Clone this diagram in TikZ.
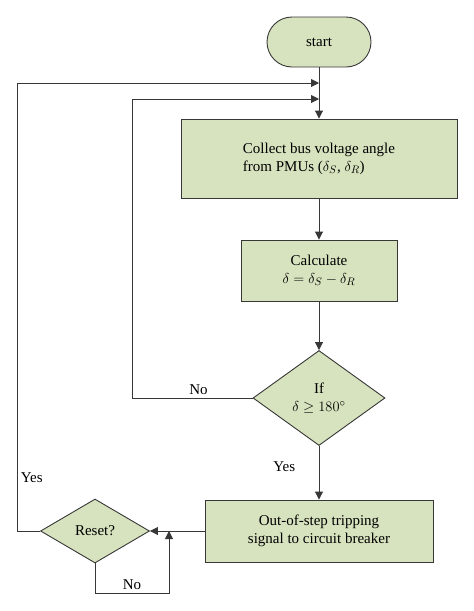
\documentclass[tikz,border=0pt]{standalone}
\usepackage{amsmath,amssymb}
\usepackage{fontspec}
\setmainfont{Liberation Serif}
\usetikzlibrary{shapes.geometric, arrows.meta, positioning}

\definecolor{boxgreen}{RGB}{215,227,190}
\definecolor{edgegray}{RGB}{55,55,55}

\begin{document}
\begin{tikzpicture}[
    x=1pt, y=-1pt,
    font=\fontsize{15}{18}\selectfont,
    block/.style={draw=edgegray, fill=boxgreen, line width=0.9pt, align=center, inner sep=2pt},
    term/.style={block, rounded corners=25pt, minimum width=104pt, minimum height=50pt},
    decision/.style={block, diamond, inner sep=0pt},
    arrow/.style={-{Triangle[length=8pt,width=8pt]}, draw=edgegray, line width=0.9pt}
]
    \useasboundingbox (0,0) rectangle (474,611);
    \node[term] (start) at (319,42) {start};
    \node[block, minimum width=276pt, minimum height=79pt, align=left] (collect) at (319,158.5) {Collect bus voltage angle\\from PMUs ($\delta_S$, $\delta_R$)};
    \node[block, minimum width=156pt, minimum height=61pt] (calc) at (319,270.5) {Calculate\\$\delta = \delta_S - \delta_R$};
    \node[decision, minimum width=132pt, minimum height=95pt] (check) at (319,398) {If\\$\delta \geq 180^{\circ}$};
    \node[block, minimum width=228pt, minimum height=62pt] (trip) at (319,531) {Out-of-step tripping\\signal to circuit breaker};
    \node[decision, minimum width=109pt, minimum height=64pt] (reset) at (95,531) {Reset?};
    % join points on the main line
    \coordinate (outerjoin) at (319,83);
    \coordinate (innerjoin) at (319,99);
    \coordinate (noloop) at (169,531);
    \draw[arrow] (start.south) -- (collect.north);
    \draw[arrow] (collect.south) -- (calc.north);
    \draw[arrow] (calc.south) -- (check.north);
    \draw[arrow] (check.south) -- node[left, pos=0.38, xshift=-20pt] {Yes} (trip.north);
    \draw[arrow] (check.west) -- node[above, pos=0.45] {No} ++(-120,0) |- (innerjoin);
    \draw[arrow] (trip.west) -- (reset.east);
    \draw[arrow] (reset.south) -- ++(0,30) -- node[above] {No} ++(74,0) -- (noloop);
    \draw[arrow] (reset.west) -- ++(-23,0) -- node[right, pos=0.12] {Yes} ++(0,-448) -- (outerjoin);
\end{tikzpicture}
\end{document}
